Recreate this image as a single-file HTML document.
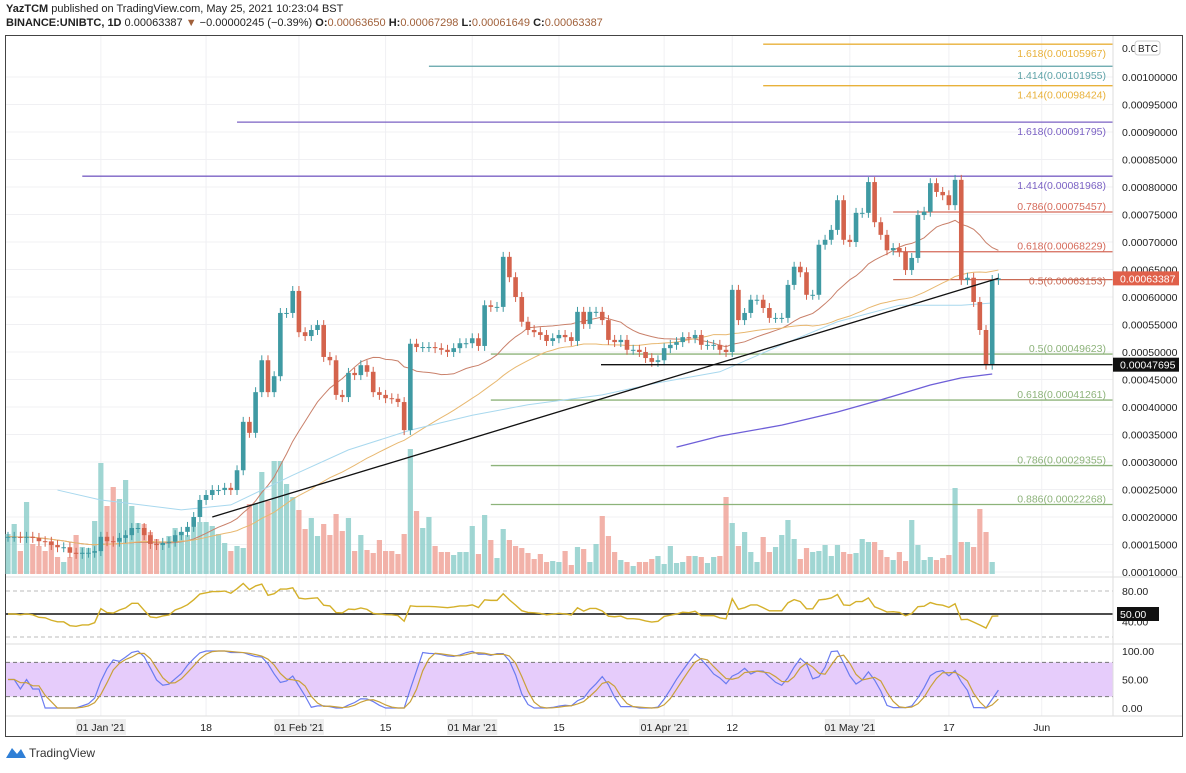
<!DOCTYPE html>
<html><head><meta charset="utf-8">
<style>
html,body{margin:0;padding:0;background:#fff;}
body{width:1186px;height:768px;overflow:hidden;font-family:"Liberation Sans",sans-serif;}
svg text{font-family:"Liberation Sans",sans-serif;}
</style></head>
<body>
<svg id="chart" width="1186" height="768" viewBox="0 0 1186 768" xmlns="http://www.w3.org/2000/svg">
  <text x="6" y="12" font-size="11" fill="#222"><tspan font-weight="bold">YazTCM</tspan> published on TradingView.com, May 25, 2021 10:23:04 BST</text>
  <text x="6" y="26" font-size="11" fill="#222"><tspan font-weight="bold">BINANCE:UNIBTC, 1D</tspan> 0.00063387 <tspan fill="#a0603a">▼</tspan> −0.00000245 (−0.39%) <tspan font-weight="bold">O:</tspan><tspan fill="#a0603a">0.00063650</tspan> <tspan font-weight="bold">H:</tspan><tspan fill="#a0603a">0.00067298</tspan> <tspan font-weight="bold">L:</tspan><tspan fill="#a0603a">0.00061649</tspan> <tspan font-weight="bold">C:</tspan><tspan fill="#a0603a">0.00063387</tspan></text>
  <rect x="5.5" y="35.5" width="1177" height="701" fill="none" stroke="#444" stroke-width="1"/>
  <g id="grid"></g>
  <g id="volume"></g>
  <g id="fibs"></g>
  <g id="mas"></g>
  <g id="candles"></g>
  <g id="overlays"></g>
  <g id="rsi"></g>
  <g id="stoch"></g>
  <g id="axes"></g>
  <g>
    <path d="M6 758 L12 748 L17 754 L21 749 L26 758 Z" fill="#2f7fd6"/>
    <text x="29" y="757" font-size="12" fill="#333">TradingView</text>
  </g>
</svg>
<script>
// ---------- DATA ----------
const closes = [16400,16400,16200,16400,16200,15600,15500,14900,14500,14500,13500,13300,13500,13500,13800,16400,15600,15500,16200,16700,18000,18000,16700,15100,14900,15300,15500,16700,17300,18200,20000,
23100,24000,24900,24900,25300,24900,28500,37300,35300,42700,48500,42700,45600,57100,57100,61100,53600,52900,54000,54900,49100,48500,42200,
41800,46200,45800,47600,46400,42700,42200,41600,41500,40900,35800,51500,50900,50900,50900,50700,50400,50000,50700,51600,51600,52500,51100,58500,58200,58200,67300,63600,60000,55500,54000,53600,53100,52000,52500,53100,52700,52000,57300,55100,57300,57300,55800,52200,51800,52200,50400,50400,50000,48900,48200,48500,50700,51300,
51800,52700,52500,53100,51300,51300,51300,50400,50000,61300,55800,57100,59500,59500,58000,56200,56200,56200,62200,65500,64500,60400,60400,69500,70400,72200,77600,70400,70000,75300,75300,80900,73600,71300,68500,68900,68200,64900,67100,74900,75500,80700,79100,78500,76700,81300,63100,63500,59100,54000,47700,63100,63387];
const volumes = [40,50,23,72,30,28,23,33,17,12,17,39,27,26,53,111,68,87,75,94,68,51,50,42,35,30,38,46,42,39,47,52,52,48,40,31,23,28,26,70,71,102,73,113,113,90,77,64,45,56,38,50,39,60,43,56,23,39,24,21,34,23,23,20,40,125,63,46,57,28,22,22,19,22,22,48,20,59,34,16,
45,34,28,26,21,15,20,12,13,12,23,9,27,25,12,30,58,38,22,14,12,8,12,12,15,18,10,28,11,12,18,18,17,11,17,18,77,51,28,42,22,12,37,22,27,39,54,35,15,26,22,23,29,18,29,22,20,21,35,32,32,24,17,14,22,13,54,29,14,17,14,16,19,86,32,32,27,65,42,12];
const ma100Days = [8,15,28,36,46,55,65,75,84,96,105,115,125,134,144,154,159];
const ma100Vals = [24900,23100,21300,22200,27600,32200,35800,38500,40400,42200,44400,46400,51300,55500,58500,58500,58900];
const ma200Days = [108,115,125,134,141,149,154,159];
const ma200Vals = [32700,34700,36700,39100,41300,44000,45300,46000];
const fibLevels = [105967,101955,98424,91795,81968,75457,68229,63153,49623,41261,29355,22268];
const fibRatios = ["1.618","1.414","1.414","1.618","1.414","0.786","0.618","0.5","0.5","0.618","0.786","0.886"];
const fibStartDay = [122,68,122,37,12,143,143,143,78,78,78,78];
const fibColors = ["#e8b13a","#5fa3a8","#e8b13a","#7b62c4","#7b62c4","#d56a5a","#d56a5a","#c96a55","#8db37a","#8db37a","#8db37a","#8db37a"];
const priceTicks = [100000,95000,90000,85000,80000,75000,70000,65000,60000,55000,50000,45000,40000,35000,30000,25000,20000,15000,10000];
const dateLabels = ["01 Jan '21","18","01 Feb '21","15","01 Mar '21","15","01 Apr '21","12","01 May '21","17","Jun"];
const dateDays = [15,32,47,61,75,89,106,117,136,152,167];
const supportLevel = 47695;
const trendStart = [33,20000];
const trendEnd = [160,63400];

// ---------- SCALES ----------
const NS="http://www.w3.org/2000/svg";
const X0=8, DX=6.19, AXISX=1113;
const xOf = i => X0 + i*DX;
const yP = p => 352 - (p-50000)*0.0055;
const yV = v => 574 - v*1.0;
const yR = v => 614 - (v-50)*0.767;
const yS = v => 708 - v*0.57;
function el(tag, attrs, parent){const e=document.createElementNS(NS,tag);for(const k in attrs)e.setAttribute(k,attrs[k]);parent.appendChild(e);return e;}
const fmt = p => (p/1e8).toFixed(8);
const opens = closes.map((c,i)=> i===0 ? c : closes[i-1]);

// grid
const grid=document.getElementById('grid');
priceTicks.forEach(p=>{const l=el('line',{x1:6,x2:AXISX,y1:yP(p),y2:yP(p),stroke:'#f0f0f3','stroke-width':1},grid);

});
dateDays.forEach(d=>{const l=el('line',{x1:xOf(d),x2:xOf(d),y1:36,y2:716,stroke:'#f0f0f3','stroke-width':1},grid);

});

// volume
const vg=document.getElementById('volume');
volumes.forEach((v,i)=>{const up=closes[i]>=opens[i];
const r=el('rect',{x:xOf(i)-2.6,y:yV(v),width:5.2,height:574-yV(v),fill:up?'#8fcfcb':'#f0a59a',opacity:0.85},vg);

});

// fibs
const fg=document.getElementById('fibs');
fibLevels.forEach((p,k)=>{const y=yP(p);
const l=el('line',{x1:xOf(fibStartDay[k]),x2:AXISX,y1:y,y2:y,stroke:fibColors[k],'stroke-width':1.3},fg);


const off = k<5 ? 13 : (k===7 ? 5 : -2);
const t=el('text',{x:1106,y:y+off,'text-anchor':'end','font-size':10.5,fill:fibColors[k]},fg);
t.textContent=fibRatios[k]+'('+fmt(p)+')';

});

// moving averages
const mg=document.getElementById('mas');
function sma(n){return closes.map((c,i)=>{const s=Math.max(0,i-n+1);let t=0;for(let j=s;j<=i;j++)t+=closes[j];return t/(i-s+1);});}
function poly(pts,color,name,w){const p=el('polyline',{points:pts.join(' '),fill:'none',stroke:color,'stroke-width':w||1},mg);

}
poly(sma(20).map((v,i)=>xOf(i)+','+yP(v)),'#c9806a','ma20-line');
poly(sma(50).map((v,i)=>xOf(i)+','+yP(v)),'#e8b870','ma50-line');
poly(ma100Days.map((d,k)=>xOf(d)+','+yP(ma100Vals[k])),'#a8d8ee','ma100-line');
poly(ma200Days.map((d,k)=>xOf(d)+','+yP(ma200Vals[k])),'#6e5fd8','ma200-line',1.3);

// candles
const cg=document.getElementById('candles');
closes.forEach((c,i)=>{const o=opens[i];const up=c>=o;const col=up?'#3f9aa3':'#d4634c';
const hi=Math.max(o,c)+900, lo=Math.min(o,c)-900;
const g=el('g',{},cg);


el('line',{x1:xOf(i),x2:xOf(i),y1:yP(hi),y2:yP(lo),stroke:col,'stroke-width':1},g);
const y1=yP(Math.max(o,c)), y2=yP(Math.min(o,c));
el('rect',{x:xOf(i)-2.3,y:y1,width:4.6,height:Math.max(1,y2-y1),fill:col},g);});

// overlays: trendline, support
const og=document.getElementById('overlays');
const tl=el('line',{x1:xOf(trendStart[0]),y1:yP(trendStart[1]),x2:xOf(trendEnd[0]),y2:yP(trendEnd[1]),stroke:'#111','stroke-width':1.3},og);


const sl=el('line',{x1:601,x2:AXISX,y1:yP(supportLevel),y2:yP(supportLevel),stroke:'#111','stroke-width':1.3},og);



// RSI
const rg=document.getElementById('rsi');
function rsiCalc(n){const out=[50];let ag=400,al=400;for(let i=1;i<closes.length;i++){const ch=closes[i]-closes[i-1];const g=Math.max(ch,0),l=Math.max(-ch,0);
ag=(ag*(n-1)+g)/n;al=(al*(n-1)+l)/n;
out.push(al===0?100:100-100/(1+ag/al));}return out;}
const rsi=rsiCalc(14);
[[80,'#bbb','4,3'],[20,'#bbb','4,3']].forEach(([v,c,d])=>{const l=el('line',{x1:6,x2:AXISX,y1:yR(v),y2:yR(v),stroke:c,'stroke-dasharray':d},rg);

});
const l50=el('line',{x1:6,x2:AXISX,y1:yR(50),y2:yR(50),stroke:'#111','stroke-width':1.5},rg);


const rp=el('polyline',{points:rsi.map((v,i)=>xOf(i)+','+yR(v)).join(' '),fill:'none',stroke:'#d4b02a','stroke-width':1.4},rg);



// Stoch RSI
const sg=document.getElementById('stoch');
const band=el('rect',{x:6,y:yS(80),width:AXISX-6,height:yS(20)-yS(80),fill:'#e6ccfb'},sg);


[80,20].forEach(v=>{const l=el('line',{x1:6,x2:AXISX,y1:yS(v),y2:yS(v),stroke:'#777','stroke-dasharray':'4,3'},sg);

});
const st=rsi.map((v,i)=>{const s=Math.max(0,i-13);const w=rsi.slice(s,i+1);const mn=Math.min(...w),mx=Math.max(...w);return mx===mn?50:(v-mn)/(mx-mn)*100;});
const sm=a=>a.map((v,i)=>{const s=Math.max(0,i-2);const w=a.slice(s,i+1);return w.reduce((x,y)=>x+y,0)/w.length;});
const K=sm(st), D=sm(K);
const kp=el('polyline',{points:K.map((v,i)=>xOf(i)+','+yS(v)).join(' '),fill:'none',stroke:'#6b7cf0','stroke-width':1.2},sg);


const dp=el('polyline',{points:D.map((v,i)=>xOf(i)+','+yS(v)).join(' '),fill:'none',stroke:'#c9a03a','stroke-width':1.2},sg);



// axes
const ax=document.getElementById('axes');
[[AXISX,36,AXISX,716],[6,577,1182,577],[6,644,1182,644],[6,716,1182,716]].forEach(a=>{el('line',{x1:a[0],y1:a[1],x2:a[2],y2:a[3],stroke:'#ddd'},ax);});
priceTicks.forEach(p=>{const t=el('text',{x:1122,y:yP(p)+4,'font-size':10.5,fill:'#222'},ax);t.textContent=fmt(p);

});
const tt=el('text',{x:1122,y:52,'font-size':10.5,fill:'#222'},ax);tt.textContent='0.0';
const bb=el('rect',{x:1135,y:41,width:25,height:14,rx:3,fill:'#fff',stroke:'#ccc'},ax);


const bt=el('text',{x:1138,y:52,'font-size':10,fill:'#222'},ax);bt.textContent='BTC';
function tag(y,txt,bg,name){const r=el('rect',{x:1113,y:y-7,width:66,height:14,fill:bg},ax);


const t=el('text',{x:1120,y:y+4,'font-size':10.5,fill:'#fff'},ax);t.textContent=txt;}
tag(yP(closes[closes.length-1]),fmt(closes[closes.length-1]),'#e0604a','last-price-tag');
tag(yP(supportLevel),fmt(supportLevel),'#111','support-price-tag');
[[80,'80.00'],[40,'40.00']].forEach(([v,s])=>{const t=el('text',{x:1122,y:yR(v)+4,'font-size':10.5,fill:'#222'},ax);t.textContent=s;

});
const r50=el('rect',{x:1117,y:yR(50)-7,width:42,height:14,fill:'#111'},ax);


const t50=el('text',{x:1120,y:yR(50)+4,'font-size':10.5,fill:'#fff'},ax);t50.textContent='50.00';
[[100,'100.00'],[50,'50.00'],[0,'0.00']].forEach(([v,s])=>{const t=el('text',{x:1122,y:yS(v)+4,'font-size':10.5,fill:'#222'},ax);t.textContent=s;

});
dateLabels.forEach((s,k)=>{const x=xOf(dateDays[k]);const month=s.length>4;
if(month){const r=el('rect',{x:x-25,y:719,width:50,height:16,fill:'#eee'},ax);}
const t=el('text',{x:x,y:731,'text-anchor':'middle','font-size':10.5,fill:'#222'},ax);t.textContent=s;

});
</script>
</body></html>
